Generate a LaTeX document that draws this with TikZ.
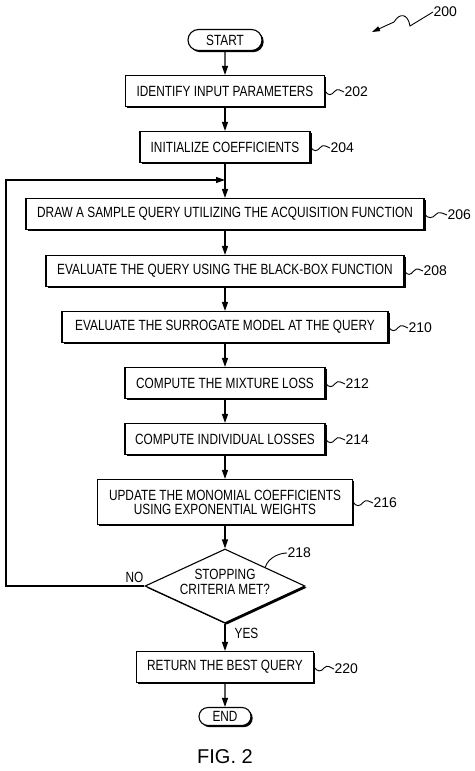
\documentclass[tikz,border=0pt]{standalone}
\usepackage{fontspec}
\setmainfont{Liberation Sans}[FakeStretch=0.8]
\newfontfamily\numfont{Liberation Sans}
\usetikzlibrary{shapes.geometric,shapes.misc,shadows,arrows.meta,calc}
\newcommand\leaderline[2]{%
  \draw[thinline] (#1.east) .. controls +(3,5) and +(-3,4) .. ($(#1.east)!0.5!(#2.west)$)
    .. controls +(3,-4) and +(-3,-1) .. (#2.west);}
\begin{document}
\begin{tikzpicture}[x=1pt,y=-1pt,line width=1.1pt,
  every node/.style={font=\fontsize{14.8}{15}\selectfont},
  shad/.style={drop shadow={shadow xshift=1.7pt,shadow yshift=-1.7pt,opacity=1,fill=black}},
  box/.style={draw,fill=white,shad,minimum height=31pt,inner sep=0pt,align=center},
  term/.style={draw,fill=white,shad,rounded rectangle,inner sep=0pt},
  dia/.style={draw,fill=white,shad,diamond,inner sep=0pt,minimum width=160pt,minimum height=74pt},
  num/.style={font=\numfont\fontsize{14}{16}\selectfont,inner sep=0pt,anchor=west},
  thinline/.style={line width=0.9pt},
  arr/.style={-{Triangle[length=9pt,width=6pt]}}]
\useasboundingbox (0,0) rectangle (474,771);

\node[term,minimum width=74pt,minimum height=21pt] (start) at (225,40) {START};
\node[box,minimum width=199pt] (b202) at (225,91) {IDENTIFY INPUT PARAMETERS};
\node[box,minimum width=170pt] (b204) at (225,147) {INITIALIZE COEFFICIENTS};
\node[box,minimum width=398pt] (b206) at (225,214) {DRAW A SAMPLE QUERY UTILIZING THE ACQUISITION FUNCTION};
\node[box,minimum width=358pt] (b208) at (225,271) {EVALUATE THE QUERY USING THE BLACK-BOX FUNCTION};
\node[box,minimum width=326pt] (b210) at (225,327) {EVALUATE THE SURROGATE MODEL AT THE QUERY};
\node[box,minimum width=200pt] (b212) at (225,383) {COMPUTE THE MIXTURE LOSS};
\node[box,minimum width=200pt] (b214) at (225,439) {COMPUTE INDIVIDUAL LOSSES};
\node[box,minimum width=255pt,minimum height=45pt,font=\fontsize{14.8}{14}\selectfont] (b216) at (225,502) {UPDATE THE MONOMIAL COEFFICIENTS\\USING EXPONENTIAL WEIGHTS};
\node[dia] (d218) at (225,586) {};
\node[align=center,inner sep=0pt,font=\fontsize{14.8}{15}\selectfont] (t218) at (225,582) {STOPPING\\CRITERIA MET?};
\node[box,minimum width=177pt] (b220) at (225,667) {RETURN THE BEST QUERY};
\node[term,minimum width=52pt,minimum height=18pt] (end) at (225,716.5) {END};

\node[font=\numfont\fontsize{20}{22}\selectfont] (fig) at (225,757) {FIG. 2};

% reference numerals
\node[num] (l200) at (433,12) {200};
\node[num] (l202) at (344,92) {202};
\node[num] (l204) at (330,148) {204};
\node[num] (l206) at (447,215) {206};
\node[num] (l208) at (423,271) {208};
\node[num] (l210) at (408,328) {210};
\node[num] (l212) at (345,384) {212};
\node[num] (l214) at (345,440) {214};
\node[num] (l216) at (373,503) {216};
\node[num] (l218) at (287,553) {218};
\node[num] (l220) at (334,669) {220};

\leaderline{b202}{l202}
\leaderline{b204}{l204}
\leaderline{b206}{l206}
\leaderline{b208}{l208}
\leaderline{b210}{l210}
\leaderline{b212}{l212}
\leaderline{b214}{l214}
\leaderline{b216}{l216}
\leaderline{b220}{l220}
\draw[thinline] ($(d218.north)!0.5!(d218.east)$) .. controls +(3,-10) and +(-7,0) .. (l218.west);

\coordinate (tip200) at (372,32);
\draw[thinline,-{Triangle[length=8pt,width=5pt]}] (l200.west) -- (410,26)
  .. controls (408,14) and (400,12) .. (394,22) -- (tip200);

% flow
\draw[arr] (start) -- (b202);
\draw[arr] (b202) -- (b204);
\draw[arr] (b204) -- (b206);
\draw[arr] (b206) -- (b208);
\draw[arr] (b208) -- (b210);
\draw[arr] (b210) -- (b212);
\draw[arr] (b212) -- (b214);
\draw[arr] (b214) -- (b216);
\draw[arr] (b216) -- (d218.north);
\draw[arr] (d218.south) -- (b220);
\draw[arr] (b220) -- (end);

\coordinate (join) at (225,180);
\coordinate (cornerA) at (6,586);
\coordinate (cornerB) at (6,180);
\draw[arr] (d218.west) -- (cornerA) -- (cornerB) -- (join);

\node (no) at (134.5,577) {NO};
\node (yes) at (246.5,633) {YES};
\end{tikzpicture}
\end{document}
